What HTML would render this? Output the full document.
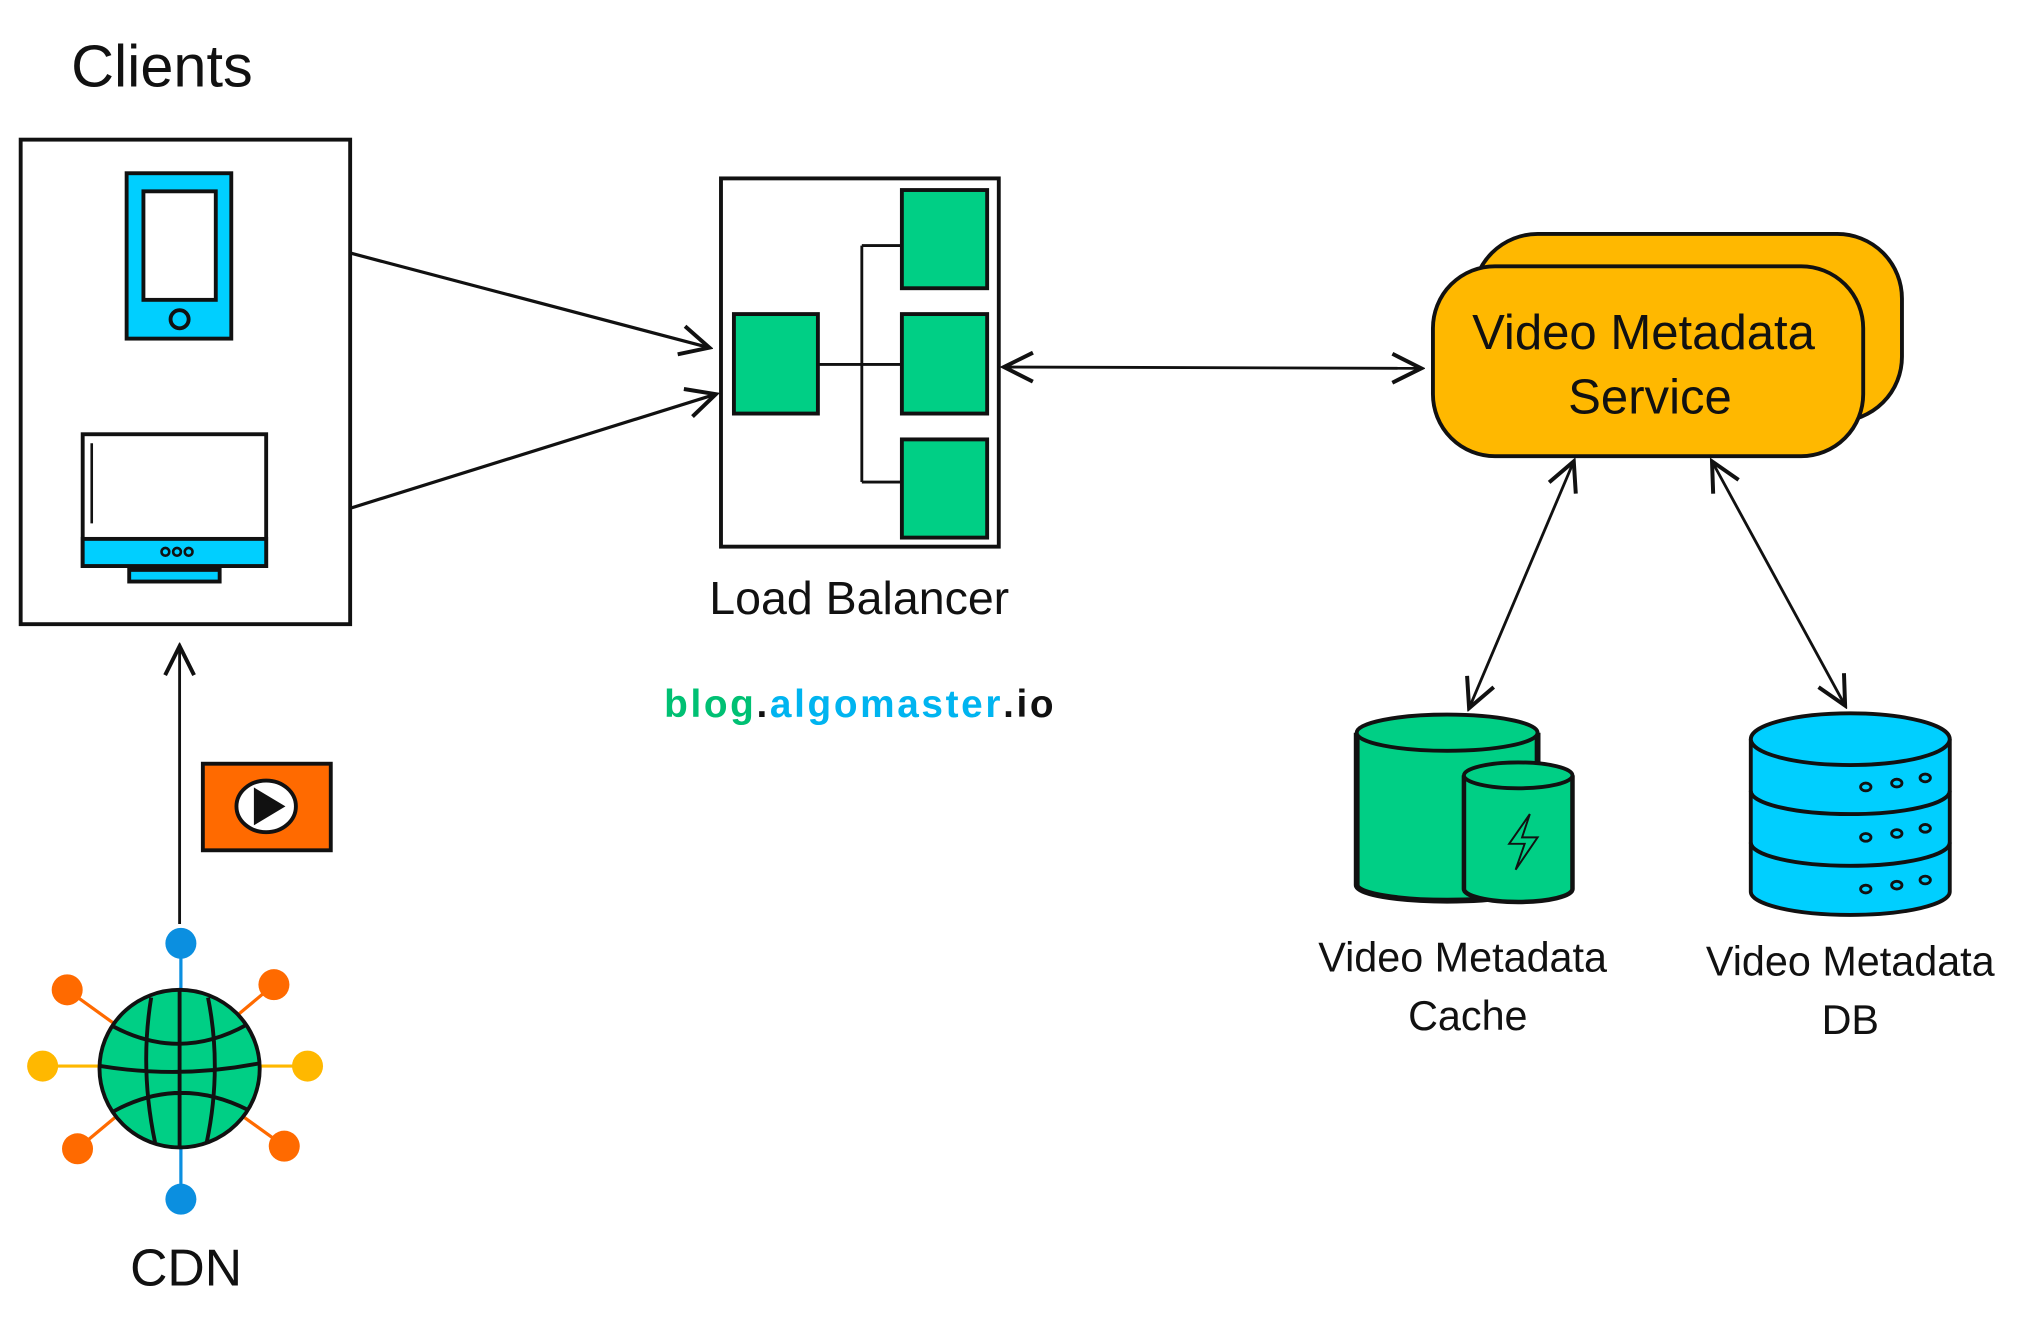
<!DOCTYPE html>
<html><head><meta charset="utf-8"><style>
html,body{margin:0;padding:0;background:#fff;}
svg{display:block;}
.h{font-family:"Comic Sans MS","Liberation Sans",sans-serif;fill:#111;}
</style></head><body>
<svg width="2026" height="1322" viewBox="0 0 1568 1023" xmlns="http://www.w3.org/2000/svg">
<defs>
<marker id="a" viewBox="0 0 20 20" refX="18" refY="10" markerWidth="28" markerHeight="28" markerUnits="userSpaceOnUse" orient="auto-start-reverse">
<path d="M2 2 L18 10 L2 18" fill="none" stroke="#111" stroke-width="2.2"/>
</marker>
</defs>
<g stroke="#111" stroke-width="3" fill="none">
<text class="h" x="55" y="67" font-size="46" stroke="none">Clients</text>
<rect x="16" y="108" width="255" height="375" fill="#fff"/>
<rect x="98" y="134" width="81" height="128" fill="#00cfff"/>
<rect x="111" y="148" width="56" height="84" fill="#fff"/>
<circle cx="139" cy="247" r="7"/>
<rect x="64" y="336" width="142" height="102" fill="#fff"/>
<rect x="64" y="417" width="142" height="21" fill="#00cfff"/>
<line x1="71" y1="343" x2="71" y2="405" stroke-width="2"/>
<circle cx="128" cy="427" r="3" stroke-width="2"/><circle cx="137" cy="427" r="3" stroke-width="2"/><circle cx="146" cy="427" r="3" stroke-width="2"/>
<rect x="100" y="441" width="70" height="9" fill="#00cfff"/>

<line x1="272" y1="196" x2="549" y2="269" marker-end="url(#a)" stroke-width="2.5"/>
<line x1="272" y1="393" x2="554" y2="305" marker-end="url(#a)" stroke-width="2.5"/>

<rect x="558" y="138" width="215" height="285" fill="#fff"/>
<rect x="568" y="243" width="65" height="77" fill="#00cf85"/>
<rect x="698" y="147" width="66" height="76" fill="#00cf85"/>
<rect x="698" y="243" width="66" height="77" fill="#00cf85"/>
<rect x="698" y="340" width="66" height="76" fill="#00cf85"/>
<path d="M633 282 H698 M667 190 V373 M667 190 H698 M667 373 H698" stroke-width="2.2"/>
<text class="h" x="665" y="475" font-size="36" text-anchor="middle" stroke="none">Load Balancer</text>

<line x1="777" y1="284" x2="1100" y2="285" marker-start="url(#a)" marker-end="url(#a)" stroke-width="2.2"/>

<rect x="1140" y="181" width="332" height="145" rx="50" fill="#ffb800"/>
<rect x="1109" y="206" width="333" height="147" rx="48" fill="#ffb800"/>
<text class="h" x="1272" y="270" font-size="38" text-anchor="middle" stroke="none">Video Metadata</text>
<text class="h" x="1277" y="320" font-size="38" text-anchor="middle" stroke="none">Service</text>

<line x1="1218" y1="357" x2="1137" y2="548" marker-start="url(#a)" marker-end="url(#a)" stroke-width="2.2"/>
<line x1="1325" y1="357" x2="1428" y2="546" marker-start="url(#a)" marker-end="url(#a)" stroke-width="2.2"/>

<path d="M1050 567 V685 A70 12 0 0 0 1190 685 V567" fill="#00cf85" stroke-width="4.5"/>
<ellipse cx="1120" cy="567" rx="70" ry="14" fill="#00cf85"/>
<path d="M1133 600 V688 A42 10 0 0 0 1217 688 V600" fill="#00cf85" stroke-width="3.5"/>
<ellipse cx="1175" cy="600" rx="42" ry="10" fill="#00cf85"/>
<path d="M1184 630 L1168 653 L1180 653 L1173 673 L1190 648 L1178 648 Z" stroke-width="1.5"/>

<path d="M1355 572 V690 A77 18 0 0 0 1509 690 V572" fill="#00cfff"/>
<ellipse cx="1432" cy="572" rx="77" ry="20" fill="#00cfff"/>
<path d="M1355 612 A77 18 0 0 0 1509 612 M1355 652 A77 18 0 0 0 1509 652"/>
<g stroke-width="2.2">
<ellipse cx="1444" cy="609" rx="4" ry="3"/><ellipse cx="1468" cy="606" rx="4" ry="3"/><ellipse cx="1490" cy="602" rx="4" ry="3"/>
<ellipse cx="1444" cy="648" rx="4" ry="3"/><ellipse cx="1468" cy="645" rx="4" ry="3"/><ellipse cx="1490" cy="641" rx="4" ry="3"/>
<ellipse cx="1444" cy="688" rx="4" ry="3"/><ellipse cx="1468" cy="685" rx="4" ry="3"/><ellipse cx="1490" cy="681" rx="4" ry="3"/>
</g>
<text class="h" x="1132" y="752" font-size="32" text-anchor="middle" stroke="none">Video Metadata</text>
<text class="h" x="1136" y="797" font-size="32" text-anchor="middle" stroke="none">Cache</text>
<text class="h" x="1432" y="755" font-size="32" text-anchor="middle" stroke="none">Video Metadata</text>
<text class="h" x="1432" y="800" font-size="32" text-anchor="middle" stroke="none">DB</text>

<text x="514" y="555" font-family="Liberation Sans, sans-serif" font-weight="bold" font-size="30" letter-spacing="1.6" stroke="none" textLength="303"><tspan fill="#00c073">blog</tspan><tspan fill="#111">.</tspan><tspan fill="#00b4f0">algomaster</tspan><tspan fill="#111">.io</tspan></text>

<line x1="139" y1="715" x2="139" y2="500" marker-end="url(#a)" stroke-width="2.2"/>
<rect x="157" y="591" width="99" height="67" fill="#ff6a00"/>
<ellipse cx="206" cy="624" rx="23" ry="20" fill="#fff"/>
<path d="M198 612 L218 624 L198 636 Z" fill="#111"/>

<g stroke-width="2.5">
<line x1="140" y1="730" x2="140" y2="928" stroke="#0b8fe0"/>
<line x1="33" y1="825" x2="238" y2="825" stroke="#ffb800"/>
<line x1="52" y1="766" x2="220" y2="887" stroke="#ff6a00"/>
<line x1="212" y1="762" x2="60" y2="889" stroke="#ff6a00"/>
</g>
<g stroke="none">
<ellipse cx="140" cy="730" rx="12" ry="12" fill="#0b8fe0"/><ellipse cx="140" cy="928" rx="12" ry="12" fill="#0b8fe0"/>
<ellipse cx="33" cy="825" rx="12" ry="12" fill="#ffb800"/><ellipse cx="238" cy="825" rx="12" ry="12" fill="#ffb800"/>
<ellipse cx="52" cy="766" rx="12" ry="12" fill="#ff6a00"/><ellipse cx="212" cy="762" rx="12" ry="12" fill="#ff6a00"/>
<ellipse cx="60" cy="889" rx="12" ry="12" fill="#ff6a00"/><ellipse cx="220" cy="887" rx="12" ry="12" fill="#ff6a00"/>
</g>
<ellipse cx="139" cy="827" rx="62" ry="61" fill="#00cf85"/>
<path d="M87 794 Q139 822 191 793 M78 825 Q139 835 200 823 M88 860 Q139 832 192 859 M139 767 V888 M117 772 Q108 827 120 884 M161 772 Q172 827 160 884"/>
<text class="h" x="144" y="995" font-size="40" text-anchor="middle" stroke="none">CDN</text>
</g>
</svg>
</body></html>
